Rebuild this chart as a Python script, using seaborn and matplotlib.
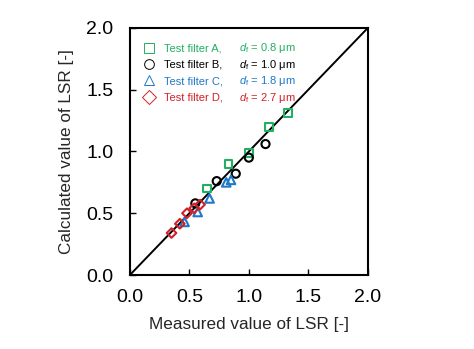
import matplotlib
matplotlib.use("Agg")
import matplotlib.pyplot as plt
from matplotlib.lines import Line2D
import seaborn as sns
import pandas as pd

sns.set_style("white")
plt.rcParams["font.family"] = ["Liberation Sans", "DejaVu Sans"]
plt.rcParams["mathtext.fontset"] = "custom"
plt.rcParams["mathtext.rm"] = "Liberation Sans"
plt.rcParams["mathtext.it"] = "Liberation Sans:italic"

# Measured vs calculated LSR for each test filter
filters = ["Test filter A,", "Test filter B,", "Test filter C,", "Test filter D,"]
fiber_diam = ["0.8", "1.0", "1.8", "2.7"]
markers = ["s", "o", "^", "D"]
colors = ["#22B060", "#000000", "#1F78C8", "#D0202A"]

meas_A = [1.33, 1.17, 1.00, 0.83, 0.65]
calc_A = [1.31, 1.20, 0.99, 0.90, 0.70]
meas_B = [1.14, 1.00, 0.89, 0.73, 0.55]
calc_B = [1.06, 0.95, 0.82, 0.76, 0.58]
meas_C = [0.85, 0.81, 0.67, 0.57, 0.46]
calc_C = [0.77, 0.75, 0.62, 0.51, 0.43]
meas_D = [0.59, 0.54, 0.48, 0.42, 0.35]
calc_D = [0.57, 0.54, 0.50, 0.415, 0.34]

measured = [meas_A, meas_B, meas_C, meas_D]
calculated = [calc_A, calc_B, calc_C, calc_D]

fig = plt.figure(figsize=(4.74, 3.49), dpi=100)
ax = fig.add_axes([0.274, 0.212, 0.502, 0.708])

# 1:1 line
line_df = pd.DataFrame({"x": [0.0, 2.0], "y": [0.0, 2.0]})
sns.lineplot(data=line_df, x="x", y="y", color="black", lw=1.4, ax=ax, zorder=2)

sizes = [30, 34, 38, 24]
for i in range(4):
    df = pd.DataFrame({"m": measured[i], "c": calculated[i]})
    sns.scatterplot(data=df, x="m", y="c", marker=markers[i], s=sizes[i],
                    facecolor="none", edgecolor=colors[i], linewidth=1.5,
                    ax=ax, zorder=3)

ax.set_xlim(0, 2)
ax.set_ylim(0, 2)
ticks = [0.0, 0.5, 1.0, 1.5, 2.0]
ax.set_xticks(ticks)
ax.set_yticks(ticks)
ax.set_xticklabels([f"{t:.1f}" for t in ticks])
ax.set_yticklabels([f"{t:.1f}" for t in ticks])
ax.tick_params(direction="in", length=4, width=1.0, labelsize=14,
               bottom=True, left=True, top=False, right=False, colors="black")
ax.tick_params(axis="x", pad=10)
ax.tick_params(axis="y", pad=12)
for sp in ax.spines.values():
    sp.set_visible(True)
    sp.set_color("black")
    sp.set_linewidth(1.5)
ax.set_xlabel("Measured value of LSR [-]", fontsize=12.3, labelpad=8)
ax.set_ylabel("Calculated value of LSR [-]", fontsize=12.3, labelpad=9)

handles = [Line2D([], [], linestyle="none", marker=markers[i], markersize=7,
                  markerfacecolor="none", markeredgecolor=colors[i],
                  markeredgewidth=0.7) for i in range(4)]
leg = ax.legend(handles, filters, loc="upper left", frameon=False,
                fontsize=8, labelspacing=0.58, handletextpad=0.8,
                borderaxespad=0.0, bbox_to_anchor=(0.04, 0.955),
                handlelength=1.0, labelcolor=colors)

fig.canvas.draw()
inv = fig.transFigure.inverted()
for i, t in enumerate(leg.get_texts()):
    bb = t.get_window_extent()
    yc = inv.transform((0, (bb.y0 + bb.y1) / 2))[1]
    fig.text(239 / 474, yc, rf"$d_\mathrm{{f}}$ = {fiber_diam[i]} μm",
             fontsize=8, color=colors[i], va="center", ha="left")

fig.savefig("out.png", dpi=100)
